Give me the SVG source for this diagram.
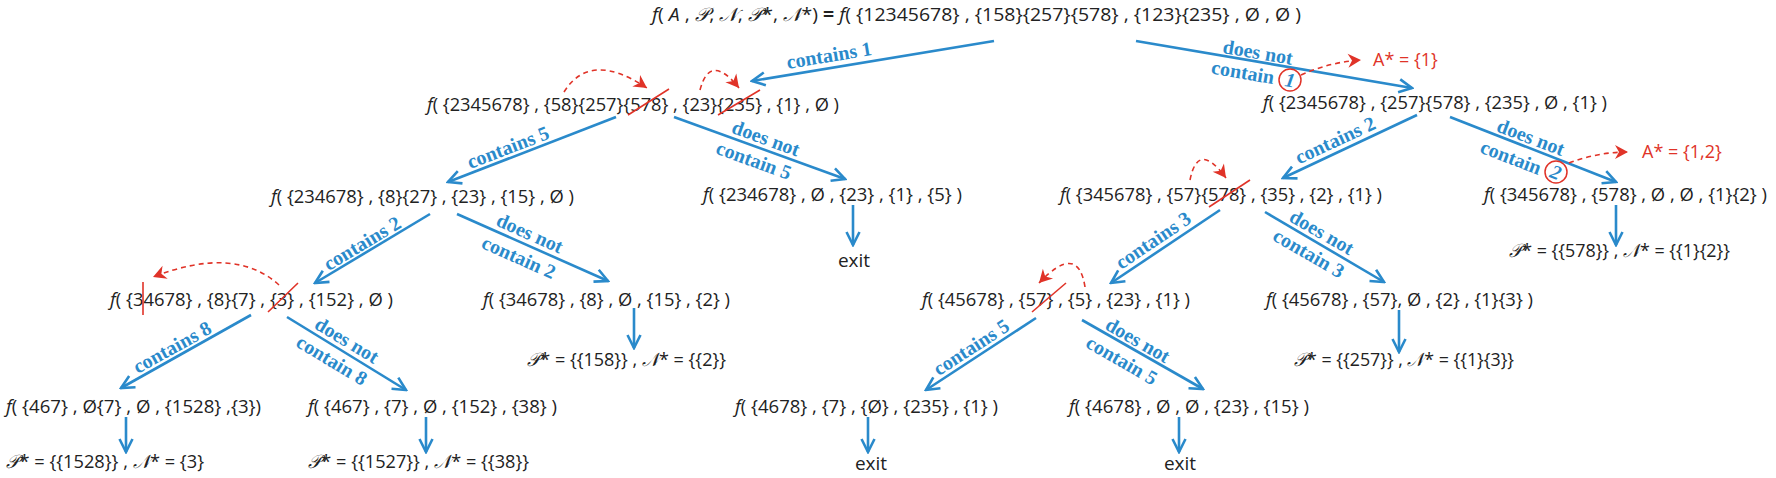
<svg xmlns="http://www.w3.org/2000/svg" width="1776" height="478" viewBox="0 0 1776 478">
<style>
.t{font-family:"Open Sans","Liberation Sans",sans-serif;font-size:19px;fill:#222}
.i{font-style:italic}
.l{font-family:"Liberation Serif","DejaVu Serif",serif;font-weight:bold;font-size:20px;fill:#2a8acb;text-anchor:middle;dominant-baseline:central}
.c{stroke:#2a8acb;stroke-width:2.6;fill:none;marker-end:url(#ba)}
.r{stroke:#e03328;stroke-width:1.6;fill:none;stroke-dasharray:5 4;marker-end:url(#ra)}
.s{stroke:#e03328;stroke-width:1.6;fill:none}
.rt{font-family:"Open Sans","Liberation Sans",sans-serif;font-size:18px;fill:#e03328}
</style>
<defs>
<marker id="ba" markerUnits="userSpaceOnUse" viewBox="-14 -8 16 16" refX="0" refY="0" markerWidth="16" markerHeight="16" orient="auto"><path d="M-13,-6.5 L0,0 L-13,6.5" fill="none" stroke="#2a8acb" stroke-width="2.6"/></marker>
<marker id="ra" markerUnits="userSpaceOnUse" viewBox="-14 -8 16 16" refX="0" refY="0" markerWidth="16" markerHeight="16" orient="auto"><path d="M-13,-7 L0,0 L-13,7 L-9,0 Z" fill="#e03328"/></marker>
</defs>
<rect width="1776" height="478" fill="#fff"/>
<g id="root"><text class="t" x="652" y="21" textLength="649" lengthAdjust="spacingAndGlyphs"><tspan class="i">f</tspan>( <tspan class="i">A</tspan> , <tspan class="i">𝒫</tspan>, <tspan class="i">𝒩</tspan>, <tspan class="i">𝒫</tspan>*, <tspan class="i">𝒩</tspan>*)  <tspan font-weight="bold">=</tspan>  <tspan class="i">f</tspan>( {12345678} , {158}{257}{578} , {123}{235} , Ø , Ø )</text></g>
<g id="n1"><text class="t" x="427" y="111" textLength="412" lengthAdjust="spacingAndGlyphs"><tspan class="i">f</tspan>( {2345678} , {58}{257}{578} , {23}{235} , {1} , Ø )</text></g>
<g id="n2"><text class="t" x="1263" y="109" textLength="344" lengthAdjust="spacingAndGlyphs"><tspan class="i">f</tspan>( {2345678} , {257}{578} , {235} , Ø , {1} )</text></g>
<g id="n3"><text class="t" x="271" y="203" textLength="303" lengthAdjust="spacingAndGlyphs"><tspan class="i">f</tspan>( {234678} , {8}{27} , {23} , {15} , Ø )</text></g>
<g id="n4"><text class="t" x="703" y="201" textLength="259" lengthAdjust="spacingAndGlyphs"><tspan class="i">f</tspan>( {234678} , Ø , {23} , {1} , {5} )</text></g>
<g id="exit1"><text class="t" x="854" y="267" text-anchor="middle">exit</text></g>
<g id="n5"><text class="t" x="1060" y="201" textLength="322" lengthAdjust="spacingAndGlyphs"><tspan class="i">f</tspan>( {345678} , {57}{578} , {35} , {2} , {1} )</text></g>
<g id="n6"><text class="t" x="1484" y="201" textLength="283" lengthAdjust="spacingAndGlyphs"><tspan class="i">f</tspan>( {345678} , {578} , Ø , Ø , {1}{2} )</text></g>
<g id="p6"><text class="t" x="1509" y="257" textLength="221" lengthAdjust="spacingAndGlyphs"><tspan class="i">𝒫</tspan>* = {{578}} , <tspan class="i">𝒩</tspan>* = {{1}{2}}</text></g>
<g id="n7"><text class="t" x="110" y="306" textLength="283" lengthAdjust="spacingAndGlyphs"><tspan class="i">f</tspan>( {34678} , {8}{7} , {3} , {152} , Ø )</text></g>
<g id="n8"><text class="t" x="483" y="306" textLength="247" lengthAdjust="spacingAndGlyphs"><tspan class="i">f</tspan>( {34678} , {8} , Ø , {15} , {2} )</text></g>
<g id="p8"><text class="t" x="527" y="366" textLength="199" lengthAdjust="spacingAndGlyphs"><tspan class="i">𝒫</tspan>* = {{158}} , <tspan class="i">𝒩</tspan>* = {{2}}</text></g>
<g id="n9"><text class="t" x="922" y="306" textLength="268" lengthAdjust="spacingAndGlyphs"><tspan class="i">f</tspan>( {45678} , {57} , {5} , {23} , {1} )</text></g>
<g id="n10"><text class="t" x="1266" y="306" textLength="267" lengthAdjust="spacingAndGlyphs"><tspan class="i">f</tspan>( {45678} , {57}, Ø , {2} , {1}{3} )</text></g>
<g id="p10"><text class="t" x="1294" y="366" textLength="220" lengthAdjust="spacingAndGlyphs"><tspan class="i">𝒫</tspan>* = {{257}} , <tspan class="i">𝒩</tspan>* = {{1}{3}}</text></g>
<g id="n11"><text class="t" x="6" y="413" textLength="255" lengthAdjust="spacingAndGlyphs"><tspan class="i">f</tspan>( {467} , Ø{7} , Ø , {1528} ,{3})</text></g>
<g id="p11"><text class="t" x="6" y="468" textLength="198" lengthAdjust="spacingAndGlyphs"><tspan class="i">𝒫</tspan>* = {{1528}} , <tspan class="i">𝒩</tspan>* = {3}</text></g>
<g id="n12"><text class="t" x="308" y="413" textLength="249" lengthAdjust="spacingAndGlyphs"><tspan class="i">f</tspan>( {467} , {7} , Ø , {152} , {38} )</text></g>
<g id="p12"><text class="t" x="308" y="468" textLength="221" lengthAdjust="spacingAndGlyphs"><tspan class="i">𝒫</tspan>* = {{1527}} , <tspan class="i">𝒩</tspan>* = {{38}}</text></g>
<g id="n13"><text class="t" x="735" y="413" textLength="263" lengthAdjust="spacingAndGlyphs"><tspan class="i">f</tspan>( {4678} , {7} , {Ø} , {235} , {1} )</text></g>
<g id="exit2"><text class="t" x="871" y="470" text-anchor="middle">exit</text></g>
<g id="n14"><text class="t" x="1069" y="413" textLength="240" lengthAdjust="spacingAndGlyphs"><tspan class="i">f</tspan>( {4678} , Ø , Ø , {23} , {15} )</text></g>
<g id="exit3"><text class="t" x="1180" y="470" text-anchor="middle">exit</text></g>

<g id="connectors">
<path class="c" d="M994,41 L752,81"/>
<path class="c" d="M1136,41 L1412,88"/>
<path class="c" d="M616,117 L448,182"/>
<path class="c" d="M674,117 L845,179"/>
<path class="c" d="M1417,115 L1283,178"/>
<path class="c" d="M1450,117 L1616,182"/>
<path class="c" d="M430,214 L315,283"/>
<path class="c" d="M457,214 L608,281"/>
<path class="c" d="M1220,210 L1111,283"/>
<path class="c" d="M1265,212 L1384,282"/>
<path class="c" d="M251,315 L121,388"/>
<path class="c" d="M287,317 L406,390"/>
<path class="c" d="M1036,318 L926,390"/>
<path class="c" d="M1082,320 L1203,389"/>
<path class="c" d="M853,205 L853,245"/>
<path class="c" d="M1616,205 L1616,245"/>
<path class="c" d="M1399,310 L1399,352"/>
<path class="c" d="M634,308 L634,348"/>
<path class="c" d="M126,417 L126,452"/>
<path class="c" d="M426,417 L426,452"/>
<path class="c" d="M868,417 L868,452"/>
<path class="c" d="M1179,417 L1179,452"/>
</g>

<g id="labels">
<text class="l" transform="translate(829,55) rotate(-9.4)">contains 1</text>
<text class="l" transform="translate(1258,52) rotate(9.7)">does not</text>
<text class="l" transform="translate(1243,72) rotate(9.7)">contain</text>
<circle cx="1290" cy="80" r="11" fill="none" stroke="#e03328" stroke-width="1.5"/>
<text class="l" transform="translate(1290,80) rotate(9.7)" font-style="italic">1</text>
<text class="l" transform="translate(508,147) rotate(-21)">contains 5</text>
<text class="l" transform="translate(766,138) rotate(20)">does not</text>
<text class="l" transform="translate(754,160) rotate(20)">contain 5</text>
<text class="l" transform="translate(1335,140) rotate(-25)">contains 2</text>
<text class="l" transform="translate(1531,137) rotate(21)">does not</text>
<text class="l" transform="translate(1511,157) rotate(21)">contain</text>
<circle cx="1556" cy="172" r="11" fill="none" stroke="#e03328" stroke-width="1.5"/>
<text class="l" transform="translate(1556,172) rotate(21)" font-style="italic">2</text>
<text class="l" transform="translate(362,243) rotate(-31)">contains 2</text>
<text class="l" transform="translate(530,233) rotate(24)">does not</text>
<text class="l" transform="translate(519,257) rotate(24)">contain 2</text>
<text class="l" transform="translate(1153,240) rotate(-34)">contains 3</text>
<text class="l" transform="translate(1322,232) rotate(30)">does not</text>
<text class="l" transform="translate(1309,253) rotate(30)">contain 3</text>
<text class="l" transform="translate(172,347) rotate(-29)">contains 8</text>
<text class="l" transform="translate(347,340) rotate(31)">does not</text>
<text class="l" transform="translate(332,360) rotate(31)">contain 8</text>
<text class="l" transform="translate(971,347) rotate(-33)">contains 5</text>
<text class="l" transform="translate(1138,340) rotate(30)">does not</text>
<text class="l" transform="translate(1122,360) rotate(30)">contain 5</text>
</g>

<g id="annotations">
<path class="r" d="M1301,75 Q1330,62 1361,60"/>
<text class="rt" x="1373" y="66">A* = {1}</text>
<path class="r" d="M1569,163 Q1598,152 1628,152"/>
<text class="rt" x="1642" y="158">A* = {1,2}</text>
<path class="r" d="M564,92 Q590,50 647,88"/>
<path class="r" d="M700,90 Q710,52 739,88"/>
<path class="s" d="M628,115 L669,89 M718,115 L760,90"/>
<path class="r" d="M1190,180 Q1198,140 1226,178"/>
<path class="s" d="M1209,207 L1250,180"/>
<path class="r" d="M279,285 Q235,245 153,277"/>
<path class="s" d="M143,282 L143,315 M268,312 L298,283"/>
<path class="r" d="M1085,287 Q1078,242 1039,283"/>
<path class="s" d="M1032,312 L1066,283"/>
</g>
</svg>
